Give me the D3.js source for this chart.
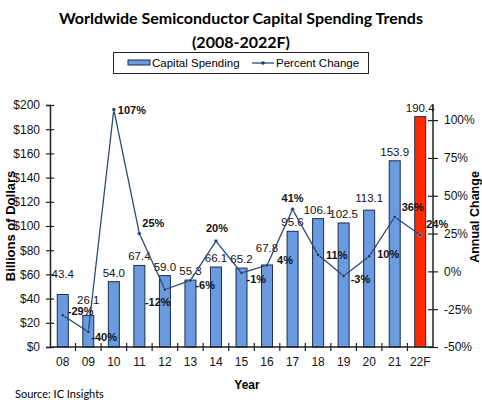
<!DOCTYPE html>
<html>
<head>
<meta charset="utf-8">
<script src="https://cdn.jsdelivr.net/npm/d3@7"></script>
<style>
  body { margin: 0; background: #fff; }
  svg { display: block; font-family: "Liberation Sans", Arial, sans-serif; }
</style>
</head>
<body>
<script>
// values
var years = ["08","09","10","11","12","13","14","15","16","17","18","19","20","21","22F"];
var spending = [43.4, 26.1, 54.0, 67.4, 59.0, 55.3, 66.1, 65.2, 67.8, 95.6, 106.1, 102.5, 113.1, 153.9, 190.4];
var pctChange = [-29, -40, 107, 25, -12, -6, 20, -1, 4, 41, 11, -3, 10, 36, 24];
var leftTicks = [0, 20, 40, 60, 80, 100, 120, 140, 160, 180, 200];
var rightTicks = [-50, -25, 0, 25, 50, 75, 100];

var W = 482, H = 404;
var m = {left: 50, right: 433, top: 105, bottom: 347};

var svg = d3.select("body").append("svg").attr("width", W).attr("height", H);

var x = d3.scaleBand().domain(years).range([m.left, m.right]);
var yL = d3.scaleLinear().domain([0, 200]).range([m.bottom, m.top]);
var yR = d3.scaleLinear().domain([-50, 110]).range([m.bottom, m.top]);

// title
svg.append("text").attr("x", 241).attr("y", 24).attr("text-anchor", "middle")
  .style("font-family", "Lato, 'Open Sans', sans-serif").style("font-weight", "bold").style("font-size", "16px")
  .text("Worldwide Semiconductor Capital Spending Trends");
svg.append("text").attr("x", 241).attr("y", 48).attr("text-anchor", "middle")
  .style("font-family", "Lato, 'Open Sans', sans-serif").style("font-weight", "bold").style("font-size", "16px")
  .text("(2008-2022F)");

// legend
var lg = svg.append("g");
lg.append("rect").attr("x", 113.5).attr("y", 52.5).attr("width", 255).attr("height", 21)
  .attr("fill", "none").attr("stroke", "#222").attr("stroke-width", 1);
lg.append("rect").attr("x", 128).attr("y", 60).attr("width", 22).attr("height", 5)
  .attr("fill", "#6a9be0").attr("stroke", "#1c2c4c").attr("stroke-width", 1);
lg.append("text").attr("x", 152).attr("y", 67).style("font-size", "11.5px").text("Capital Spending");
lg.append("line").attr("x1", 252).attr("x2", 274).attr("y1", 63).attr("y2", 63)
  .attr("stroke", "#2c4a76").attr("stroke-width", 1.3);
lg.append("circle").attr("cx", 263).attr("cy", 63).attr("r", 1.8).attr("fill", "#1c3a6a");
lg.append("text").attr("x", 276).attr("y", 67).style("font-size", "11.5px").text("Percent Change");

// bars
var bw = 11;
svg.append("g").selectAll("rect").data(spending).enter().append("rect")
  .attr("x", function(d, i) { return x(years[i]) + x.bandwidth() / 2 - bw / 2; })
  .attr("y", function(d) { return yL(d); })
  .attr("width", bw)
  .attr("height", function(d) { return yL(0) - yL(d); })
  .attr("fill", function(d, i) { return years[i] == "22F" ? "#ff2a00" : "#6a9be0"; })
  .attr("stroke", "#1c2c4c").attr("stroke-width", 1);

// value labels, a few lifted to clear the line
var lift = {"08": 11, "09": 6, "16": 8, "20": 3};
svg.append("g").selectAll("text").data(spending).enter().append("text")
  .attr("x", function(d, i) { return x(years[i]) + x.bandwidth() / 2; })
  .attr("y", function(d, i) { return yL(d) - 5 - (lift[years[i]] || 0); })
  .attr("text-anchor", "middle").style("font-size", "11.5px").attr("fill", "#111")
  .text(function(d) { return d.toFixed(1); });

// axes
var axL = svg.append("g").attr("transform", "translate(" + m.left + ",0)")
  .call(d3.axisLeft(yL).tickValues(leftTicks).tickSize(4).tickPadding(6).tickFormat(function(d) { return "$" + d; }));
axL.selectAll(".tick line").attr("x1", 4);
var axR = svg.append("g").attr("transform", "translate(" + m.right + ",0)")
  .call(d3.axisRight(yR).tickValues(rightTicks).tickSize(5).tickPadding(6).tickFormat(function(d) { return d + "%"; }));
axR.selectAll(".tick line").attr("x1", -5);
axR.select(".domain").attr("d", "M0," + m.top + "V" + m.bottom);
var axB = svg.append("g").attr("transform", "translate(0," + m.bottom + ")")
  .call(d3.axisBottom(x).tickSize(0).tickPadding(10));
// ticks between categories
axB.selectAll(".sep").data(d3.range(1, years.length)).enter().append("line")
  .attr("x1", function(i) { return m.left + i * x.step(); })
  .attr("x2", function(i) { return m.left + i * x.step(); })
  .attr("y1", -4).attr("y2", 4).attr("stroke", "#222");
[axL, axR, axB].forEach(function(a) {
  a.selectAll("text").style("font-size", "12px").style("font-family", "'Liberation Sans', Arial, sans-serif").attr("fill", "#111");
  a.selectAll(".domain").attr("stroke", "#222").attr("stroke-width", 1.5);
  a.selectAll("line").attr("stroke", "#222").attr("stroke-width", 1.2);
});
axB.select(".domain").attr("d", "M" + m.left + ",0H" + m.right);

// percent change line
var line = d3.line()
  .x(function(d, i) { return x(years[i]) + x.bandwidth() / 2; })
  .y(function(d) { return yR(d); });
svg.append("path").datum(pctChange).attr("d", line)
  .attr("fill", "none").attr("stroke", "#2c4a76").attr("stroke-width", 1.3);
svg.append("g").selectAll("circle").data(pctChange).enter().append("circle")
  .attr("cx", function(d, i) { return x(years[i]) + x.bandwidth() / 2; })
  .attr("cy", function(d) { return yR(d); })
  .attr("r", 1.8).attr("fill", "#1c3a6a").attr("stroke", "#9fb6dc").attr("stroke-width", 0.6);

// percent labels, offset from their point
var off = {"08": [5, 0], "09": [3, 9], "10": [4, 4], "11": [3, -7], "12": [-20, 16], "13": [5, 9],
  "14": [-10, -9], "15": [5, 10], "16": [10, -1], "17": [-11, -7], "18": [8, 4], "19": [7, 7],
  "20": [8, 2], "21": [7, -6], "22F": [6, -7]};
svg.append("g").selectAll("text").data(pctChange).enter().append("text")
  .attr("x", function(d, i) { return x(years[i]) + x.bandwidth() / 2 + off[years[i]][0]; })
  .attr("y", function(d, i) { return yR(d) + off[years[i]][1]; })
  .style("font-size", "11px").style("font-weight", "bold").attr("fill", "#111")
  .text(function(d) { return d + "%"; });

// axis titles
svg.append("text").attr("transform", "translate(15,226) rotate(-90)").attr("text-anchor", "middle")
  .style("font-size", "13px").style("font-weight", "bold").text("Billions of Dollars");
svg.append("text").attr("transform", "translate(479,217) rotate(-90)").attr("text-anchor", "middle")
  .style("font-size", "12.5px").style("font-weight", "bold").text("Annual Change");
svg.append("text").attr("x", 247).attr("y", 389).attr("text-anchor", "middle")
  .style("font-size", "12px").style("font-weight", "bold").text("Year");
svg.append("text").attr("x", 15).attr("y", 398)
  .style("font-family", "Lato, 'Open Sans', sans-serif").style("font-size", "11px").text("Source: IC Insights");
</script>
</body>
</html>
